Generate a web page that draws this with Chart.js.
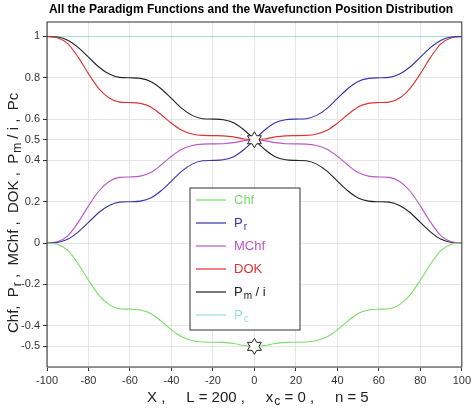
<!DOCTYPE html>
<html>
<head>
<script src="https://cdn.jsdelivr.net/npm/chart.js@4"></script>
<style>body{margin:0;background:#fff}</style>
</head>
<body>
<canvas id="myChart"></canvas>
<script>
// x positions -100..100 step 5
let xs = [];
for (let x = -100; x <= 100; x += 5) xs.push(x);

// values (left half, mirrored below)
let prLeft = [0, 0.003, 0.018, 0.053, 0.1, 0.148, 0.182, 0.198, 0.2, 0.203, 0.218, 0.253, 0.3, 0.348, 0.382, 0.398, 0.4, 0.403, 0.418, 0.453, 0.5];
let mchfLeft = [0, 0.006, 0.035, 0.1, 0.18, 0.252, 0.298, 0.318, 0.32, 0.324, 0.341, 0.378, 0.42, 0.454, 0.472, 0.479, 0.48, 0.481, 0.486, 0.496, 0.5];

let pr = prLeft.concat(prLeft.slice(0, 20).reverse().map(v => 1 - v));
let mchf = mchfLeft.concat(mchfLeft.slice(0, 20).reverse());
let pm = pr.map(v => 1 - v);
let dok = mchf.map(v => 1 - v);
let chf = mchf.map(v => -v);
let pc = xs.map(() => 1);

let yTicks = [-0.5, -0.4, -0.2, 0, 0.2, 0.4, 0.5, 0.6, 0.8, 1];
let xTicks = [-100, -80, -60, -40, -20, 0, 20, 40, 60, 80, 100];

let colors = ['#77dd66', '#3333aa', '#bb55cc', '#dd3333', '#222222', '#99dddd'];
let legendNames = [['Chf', ''], ['P', 'r'], ['MChf', ''], ['DOK', ''], ['P', 'm', ' / i'], ['P', 'c']];

function pts(arr) { return xs.map((x, i) => ({x: x, y: arr[i]})); }

function sub(ctx, parts, x, y, size) {
    // base, subscript, rest
    ctx.font = size + 'px Arial';
    ctx.fillText(parts[0], x, y);
    x += ctx.measureText(parts[0]).width + 1;
    if (parts[1]) {
        ctx.font = (size - 3) + 'px Arial';
        ctx.fillText(parts[1], x, y + 4);
        x += ctx.measureText(parts[1]).width;
    }
    if (parts[2]) {
        ctx.font = size + 'px Arial';
        ctx.fillText(parts[2], x, y);
        x += ctx.measureText(parts[2]).width;
    }
    return x;
}

let extras = {
    id: 'extras',
    afterDraw(chart) {
        let c = chart.ctx, xa = chart.scales.x, ya = chart.scales.y, a = chart.chartArea;
        c.save();
        // box
        c.strokeStyle = '#333'; c.lineWidth = 1;
        c.strokeRect(a.left, a.top, a.right - a.left, a.bottom - a.top);
        // stars
        [0.5, -0.5].forEach(v => {
            let cx = xa.getPixelForValue(0), cy = ya.getPixelForValue(v), r = 8;
            c.beginPath();
            for (let k = 0; k < 12; k++) {
                let ang = -Math.PI / 2 + k * Math.PI / 6;
                let rr = k % 2 ? r * 0.58 : r;
                let px = cx + rr * Math.cos(ang), py = cy + rr * Math.sin(ang);
                k ? c.lineTo(px, py) : c.moveTo(px, py);
            }
            c.closePath();
            c.fillStyle = '#fff'; c.fill();
            c.strokeStyle = '#222'; c.stroke();
        });
        // legend
        let lx = 190, ly = 188, lw = 110, lh = 142;
        c.fillStyle = '#fff'; c.fillRect(lx, ly, lw, lh);
        c.strokeStyle = '#333'; c.strokeRect(lx, ly, lw, lh);
        c.textBaseline = 'middle';
        legendNames.forEach((n, i) => {
            let yy = ly + 12 + i * 23;
            c.strokeStyle = colors[i]; c.lineWidth = 1.2;
            c.beginPath(); c.moveTo(lx + 6, yy); c.lineTo(lx + 36, yy); c.stroke();
            c.fillStyle = colors[i];
            sub(c, n, lx + 44, yy, 13);
        });
        // title
        c.fillStyle = '#000'; c.textAlign = 'center';
        c.font = 'bold 12px Arial';
        c.fillText('All the Paradigm Functions and the Wavefunction Position Distribution', 251, 10);
        // x title
        c.textAlign = 'left'; c.fillStyle = '#222';
        let x = sub(c, ['X ,     L = 200 ,     x', 'c', ''], 147, 398, 15);
        sub(c, [' = 0 ,     n = 5', '', ''], x, 398, 15);
        // y title
        c.translate(14, 195); c.rotate(-Math.PI / 2);
        let yy = -138;
        [['Chf,  P', 'r', ''], [' ,  MChf ,  DOK ,  P', 'm', ' / i ,  Pc']].forEach(p => {
            yy = sub(c, p, yy, 0, 15);
        });
        c.restore();
    }
};

let ctx = document.getElementById('myChart').getContext('2d');
ctx.canvas.width = 474;
ctx.canvas.height = 409;
let names = ['Chf', 'Pr', 'MChf', 'DOK', 'Pm/i', 'Pc'];
let series = [chf, pr, mchf, dok, pm, pc];
let chart = new Chart(ctx, {
    type: 'line',
    data: {
        datasets: series.map((s, i) => ({
            label: names[i],
            data: pts(s),
            borderColor: colors[i],
            borderWidth: 1.1,
            pointRadius: 0,
            cubicInterpolationMode: 'monotone'
        }))
    },
    options: {
        responsive: false,
        animation: false,
        layout: {padding: {left: 0, right: 9, top: 22, bottom: 0}},
        plugins: {legend: {display: false}, tooltip: {enabled: false}},
        scales: {
            x: {
                type: 'linear', min: -100, max: 100,
                afterBuildTicks: s => { s.ticks = xTicks.map(v => ({value: v})); },
                ticks: {color: '#333', font: {size: 11, family: 'Arial'}, maxRotation: 0},
                grid: {color: '#e6e6e6', tickColor: '#333', tickLength: 4},
                afterFit: s => { s.height = 42; }
            },
            y: {
                min: -0.6, max: 1.07,
                afterBuildTicks: s => { s.ticks = yTicks.map(v => ({value: v})); },
                ticks: {color: '#333', font: {size: 11, family: 'Arial'}, callback: v => String(v)},
                grid: {color: '#e6e6e6', tickColor: '#333', tickLength: 4},
                afterFit: s => { s.width = 47; }
            }
        }
    },
    plugins: [extras]
});
</script>
</body>
</html>
